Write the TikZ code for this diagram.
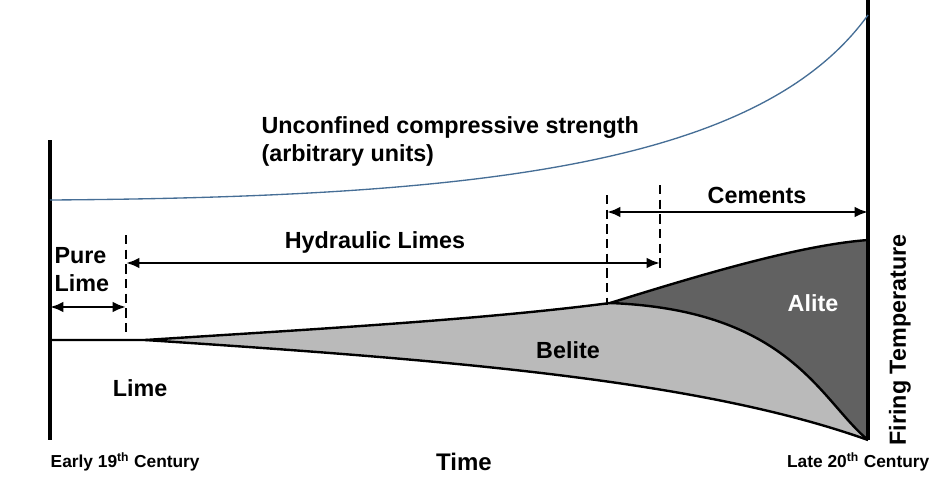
\documentclass[tikz,border=0pt]{standalone}
\usepackage{fontspec}
\setmainfont{Liberation Sans}
\usetikzlibrary{arrows.meta}
\begin{document}
\begin{tikzpicture}[x=0.75pt,y=-0.75pt,
  lbl/.style={font=\bfseries\fontsize{17.5}{21}\selectfont,inner sep=1pt},
  dsh/.style={dashed,line width=2.2pt,dash pattern=on 7pt off 4pt},
  dbl/.style={{Latex[length=10pt,width=8pt]}-{Latex[length=10pt,width=8pt]},line width=2pt}]
\useasboundingbox (0,0) rectangle (938,497);
% regions
\fill[black!62] (610,303) .. controls (700,275) and (800,245) .. (868,240) -- (868,440) .. controls (820,400) and (790,310) .. (610,303) -- cycle;
\fill[black!27] (145,340) .. controls (300,330) and (480,320) .. (610,303) .. controls (790,310) and (820,400) .. (868,440) .. controls (700,380) and (450,360) .. (145,340) -- cycle;
\draw[line width=1.8pt] (50,340) -- (145,340) .. controls (300,330) and (480,320) .. (610,303) .. controls (700,275) and (800,245) .. (868,240);
\draw[line width=1.8pt] (145,340) .. controls (450,360) and (700,380) .. (868,440);
\draw[line width=1.8pt] (610,303) .. controls (790,310) and (820,400) .. (868,440);
% axes
\draw[line width=2.5pt] (50,140) -- (50,440);
\draw[line width=2.5pt] (868,0) -- (868,440);
% strength curve
\draw[color={rgb,255:red,70;green,110;blue,150},line width=1pt] (50,200) .. controls (480,197) and (760,165) .. (868,15);
% dashed
\draw[dsh] (126,235) -- (126,335);
\draw[dsh] (607,195) -- (607,305);
\draw[dsh] (660,185) -- (660,270);
% arrows
\coordinate (pa) at (50,307); \coordinate (pb) at (126,307);
\coordinate (ha) at (126,263); \coordinate (hb) at (660,263);
\coordinate (ca) at (607,212); \coordinate (cb) at (868,212);
\draw[dbl] (pa) -- (pb);
\draw[dbl] (ha) -- (hb);
\draw[dbl] (ca) -- (cb);
% labels
\node[lbl,anchor=west,align=left] (pl) at (53,270) {Pure\\Lime};
\node[lbl] (hl) at (375,242) {Hydraulic Limes};
\node[lbl] (ce) at (757,195) {Cements};
\node[lbl,white] (al) at (813,303) {Alite};
\node[lbl] (be) at (568,350) {Belite};
\node[lbl] (li) at (140,388) {Lime};
\node[lbl,anchor=west,align=left] (uc) at (260,141) {Unconfined compressive strength\\(arbitrary units)};
\node[lbl,rotate=90] (ft) at (900,340) {Firing Temperature};
\node[font=\bfseries\fontsize{13}{15}\selectfont,anchor=west] (e19) at (46,462) {Early 19\textsuperscript{th} Century};
\node[font=\bfseries\fontsize{18}{20}\selectfont] (tm) at (464,462) {Time};
\node[font=\bfseries\fontsize{13}{15}\selectfont,anchor=east] (l20) at (934,462) {Late 20\textsuperscript{th} Century};
\end{tikzpicture}
\end{document}
